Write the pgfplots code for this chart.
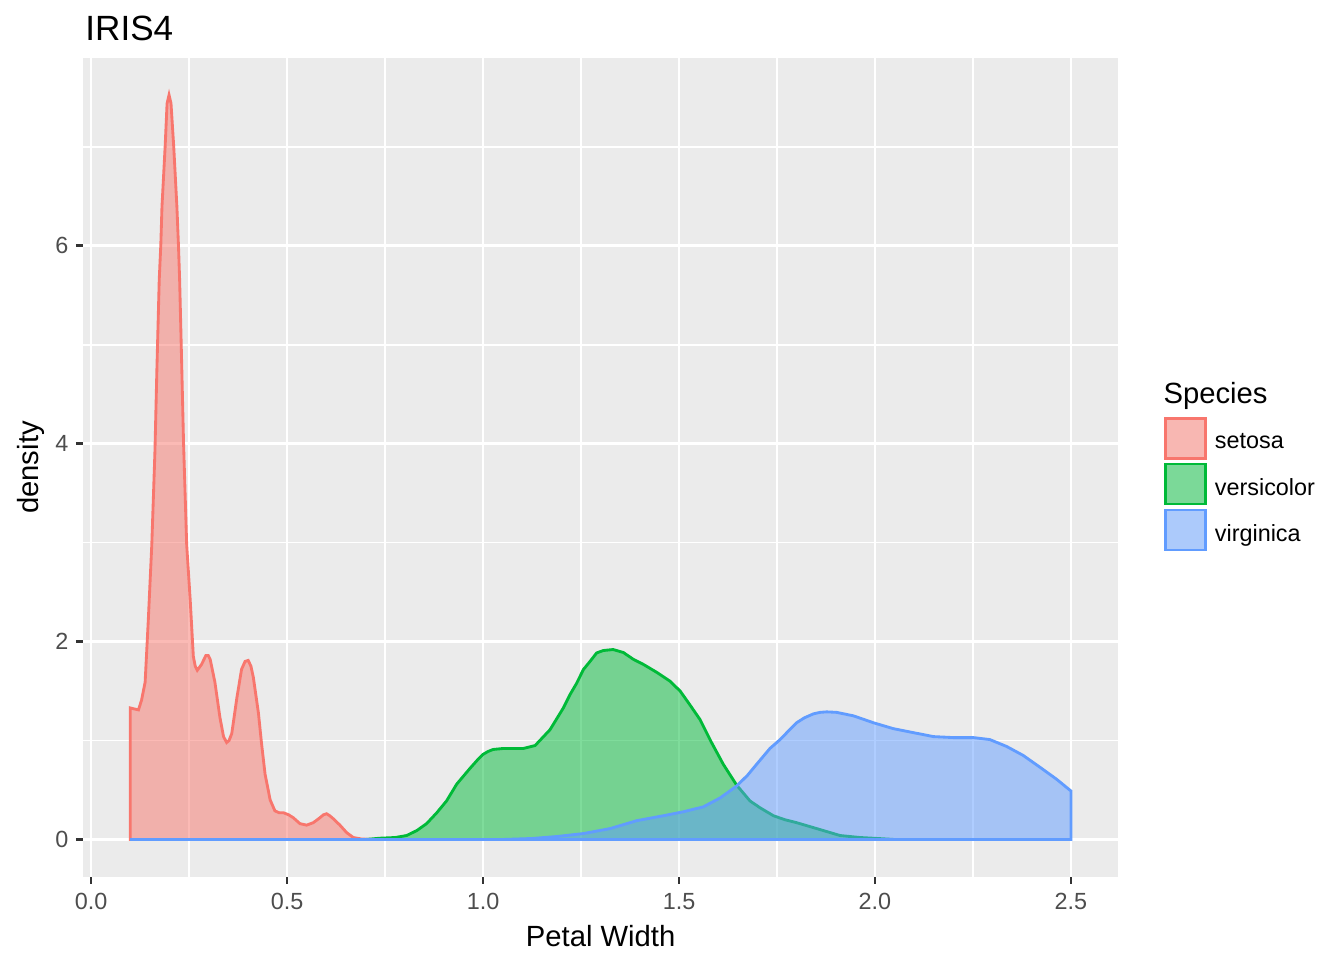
\documentclass[border=0pt]{standalone}
\usepackage{fontspec}
\setmainfont{Liberation Sans}
\usepackage{pgfplots}
\pgfplotsset{compat=1.18}

\definecolor{setosa}{RGB}{248,118,109}
\definecolor{versicolor}{RGB}{0,186,56}
\definecolor{virginica}{RGB}{97,156,255}
\definecolor{panel}{RGB}{235,235,235}
\definecolor{grey95}{RGB}{242,242,242}
\definecolor{grey20}{RGB}{51,51,51}
\definecolor{grey30}{RGB}{77,77,77}

\begin{document}
\begin{tikzpicture}
\path[use as bounding box] (0,0) rectangle (504bp,360bp);
\begin{axis}[
  at={(31.2bp,31.24bp)}, anchor=south west,
  scale only axis, width=388.05bp, height=306.9bp,
  xmin=-0.02, xmax=2.62, ymin=-0.376, ymax=7.896,
  axis x line*=bottom, axis y line*=left,
  axis line style={draw=none},
  axis background/.style={fill=panel},
  tick align=outside,
  major tick length=2.75pt, minor tick length=0pt,
  every tick/.style={grey20, line width=1.07pt},
  xtick={0,0.5,1,1.5,2,2.5},
  minor xtick={0.25,0.75,1.25,1.75,2.25},
  ytick={0,2,4,6},
  minor ytick={1,3,5,7},
  grid=both,
  major grid style={white, line width=1.07pt},
  minor grid style={white, line width=0.53pt},
  /pgf/number format/assume math mode=true,
  xticklabel style={/pgf/number format/.cd, fixed, fixed zerofill, precision=1, /tikz/.cd,
    font=\fontsize{8.8}{10}\selectfont, text=grey30, inner sep=0pt, yshift=-3.2pt},
  yticklabel style={font=\fontsize{8.8}{10}\selectfont, text=grey30, inner sep=0pt, xshift=-2.6pt},
  legend cell align=left,
  legend style={at={(1.0448,0.5621)}, anchor=north west, draw=none, fill=none,
    inner sep=0pt, outer sep=0pt, row sep=1.18bp, column sep=2.9bp,
    font=\fontsize{8.8}{10}\selectfont, nodes={inner sep=0pt}},
  legend image code/.code={
    \fill[grey95] (0.5bp,-5.7bp) rectangle (15.5bp,9.3bp);
    \draw[#1] (0.5bp,-5.7bp) rectangle (15.5bp,9.3bp);},
  clip=false,
]
% setosa
\addplot[draw=setosa, fill=setosa, fill opacity=0.5, line width=1.07pt] table {
0.1 0
0.1 1.33
0.11 1.32
0.121 1.31
0.129 1.41
0.138 1.59
0.146 2.21
0.155 2.98
0.163 3.92
0.168 4.75
0.174 5.66
0.178 6.01
0.181 6.40
0.189 7.0
0.194 7.44
0.199 7.525
0.204 7.44
0.211 7.0
0.219 6.40
0.223 6.01
0.226 5.66
0.231 4.85
0.236 4.01
0.244 2.98
0.253 2.42
0.261 1.85
0.266 1.75
0.271 1.71
0.282 1.77
0.293 1.86
0.299 1.86
0.304 1.82
0.316 1.59
0.329 1.23
0.338 1.04
0.346 0.98
0.352 1.0
0.359 1.07
0.372 1.43
0.384 1.72
0.393 1.80
0.401 1.81
0.408 1.75
0.414 1.64
0.427 1.28
0.435 0.97
0.444 0.66
0.457 0.40
0.469 0.29
0.480 0.27
0.491 0.27
0.504 0.25
0.516 0.22
0.533 0.16
0.550 0.145
0.567 0.17
0.584 0.22
0.593 0.25
0.601 0.26
0.609 0.24
0.618 0.21
0.635 0.145
0.652 0.07
0.669 0.02
0.69 0.005
0.72 0
2.5 0
} -- cycle;
\addlegendentry{setosa}
% versicolor
\addplot[draw=versicolor, fill=versicolor, fill opacity=0.5, line width=1.07pt] table {
0.1 0
0.70 0
0.737 0.013
0.776 0.02
0.805 0.04
0.831 0.09
0.856 0.16
0.882 0.27
0.907 0.39
0.933 0.56
0.967 0.72
0.985 0.80
1.0 0.86
1.013 0.89
1.026 0.91
1.052 0.92
1.103 0.92
1.133 0.95
1.171 1.11
1.205 1.33
1.222 1.465
1.239 1.58
1.256 1.717
1.273 1.80
1.290 1.886
1.307 1.91
1.332 1.92
1.358 1.89
1.384 1.82
1.409 1.77
1.443 1.69
1.477 1.60
1.503 1.50
1.528 1.36
1.554 1.21
1.583 0.98
1.613 0.76
1.647 0.55
1.681 0.39
1.707 0.32
1.741 0.24
1.77 0.20
1.80 0.17
1.86 0.10
1.911 0.04
1.962 0.02
2.008 0.01
2.05 0
2.5 0
} -- cycle;
\addlegendentry{versicolor}
% virginica
\addplot[draw=virginica, fill=virginica, fill opacity=0.5, line width=1.07pt] table {
0.1 0
1.05 0
1.124 0.01
1.188 0.03
1.256 0.06
1.324 0.11
1.392 0.19
1.46 0.24
1.511 0.28
1.562 0.33
1.605 0.42
1.647 0.54
1.675 0.65
1.698 0.76
1.715 0.84
1.732 0.92
1.758 1.01
1.78 1.10
1.80 1.18
1.82 1.23
1.843 1.27
1.86 1.285
1.877 1.29
1.902 1.285
1.945 1.25
1.996 1.18
2.047 1.12
2.098 1.08
2.149 1.04
2.2 1.03
2.251 1.03
2.293 1.01
2.336 0.94
2.378 0.85
2.421 0.73
2.463 0.61
2.5 0.49
2.5 0
} -- cycle;
\addlegendentry{virginica}
\node[anchor=base west, inner sep=0pt, font=\fontsize{13.2}{15}\selectfont] at (axis description cs:0.0017,1.0215) {IRIS4};
\node[anchor=base, inner sep=0pt, font=\fontsize{11}{13}\selectfont] at (axis description cs:0.5,-0.0847) {Petal Width};
\node[anchor=base, rotate=90, inner sep=0pt, font=\fontsize{11}{13}\selectfont] at (axis description cs:-0.0432,0.5) {density};
\node[anchor=base west, inner sep=0pt, font=\fontsize{11}{13}\selectfont] at (axis description cs:1.0435,0.5785) {Species};
\end{axis}
\end{tikzpicture}
\end{document}
